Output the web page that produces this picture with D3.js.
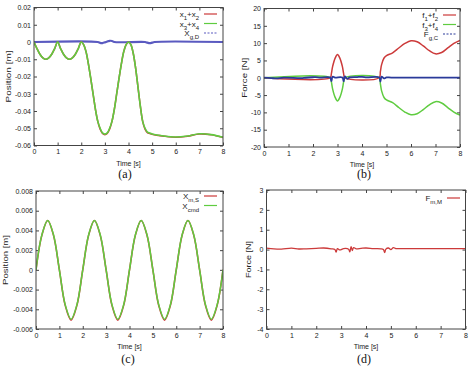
<!DOCTYPE html>
<html>
<head>
<meta charset="utf-8">
<script src="https://cdn.jsdelivr.net/npm/d3@7"></script>
<style>
  body { margin: 0; background: #fff; }
  svg { display: block; font-family: "Liberation Sans", Arial, sans-serif; }
  .tick text { fill: #222; font-size: 7px; }
  .tick line { stroke: #444; }
</style>
</head>
<body>
<script>
// ---- data ----
var xTicks = [0, 1, 2, 3, 4, 5, 6, 7, 8];

// (a) position
var aTime = [0,0.125,0.25,0.375,0.5,0.625,0.75,0.875,1,1.125,1.25,1.375,1.5,1.625,1.75,1.875,2,2.1,2.2,2.3,2.4,2.5,2.6,2.7,2.8,2.9,3,3.1,3.2,3.3,3.4,3.5,3.6,3.7,3.8,3.9,4,4.1,4.2,4.3,4.4,4.5,4.6,4.7,4.8,4.9,5,5.5,6,6.5,7,7.5,8];
var x12 = [0,-0.0038,-0.0071,-0.0092,-0.0100,-0.0092,-0.0071,-0.0038,0,-0.0038,-0.0071,-0.0092,-0.0100,-0.0092,-0.0071,-0.0038,0,-0.0015,-0.0055,-0.0125,-0.021,-0.030,-0.039,-0.046,-0.0505,-0.053,-0.0537,-0.053,-0.0505,-0.046,-0.039,-0.030,-0.021,-0.0125,-0.0055,-0.0015,0,-0.0015,-0.0065,-0.015,-0.026,-0.037,-0.046,-0.0505,-0.0525,-0.053,-0.0535,-0.0546,-0.0552,-0.0546,-0.0533,-0.0538,-0.0553];
var x34 = [0,-0.0038,-0.0071,-0.0092,-0.0100,-0.0092,-0.0071,-0.0038,0,-0.0038,-0.0071,-0.0092,-0.0100,-0.0092,-0.0071,-0.0038,0,-0.0015,-0.0055,-0.0125,-0.021,-0.030,-0.039,-0.046,-0.0500,-0.0527,-0.0534,-0.0527,-0.0500,-0.046,-0.039,-0.030,-0.021,-0.0125,-0.0055,-0.0015,0,-0.0015,-0.0065,-0.015,-0.026,-0.037,-0.046,-0.0500,-0.0522,-0.0528,-0.0533,-0.0545,-0.0551,-0.0545,-0.0532,-0.0537,-0.0552];
var gTime = [0,2.7,2.8,2.9,3.0,3.1,3.2,3.3,3.4,4.7,4.8,4.9,5.0,5.1,8];
var xgD = [0,0,-0.0005,-0.0006,-0.0002,0.0003,0.0007,0.0006,0,0,-0.0004,-0.0007,-0.0004,0,0];
var aYTicks = [0.02, 0.01, 0, -0.01, -0.02, -0.03, -0.04, -0.05, -0.06];

// (b) force
var bTime = [0,2.7,2.75,2.8,2.9,3.0,3.1,3.2,3.25,3.3,4.7,4.75,4.8,4.9,5.0,5.25,5.5,5.75,6.0,6.25,6.5,6.75,7.0,7.25,7.5,7.75,8.0];
var f12 = [0,0,1.2,3.2,5.6,6.7,5.6,3.2,1.2,0,0,1.8,3.8,5.7,6.4,7.2,8.6,9.9,10.7,10.4,9.2,7.8,6.9,7.3,8.6,9.9,10.8];
var f34 = [0,0,-1.2,-3.2,-5.6,-6.7,-5.6,-3.2,-1.2,0,0,-1.8,-3.8,-5.7,-6.4,-7.2,-8.6,-9.9,-10.7,-10.4,-9.2,-7.8,-6.9,-7.3,-8.6,-9.9,-10.8];
var cTime = [0,0.3,0.5,0.8,1.5,1.7,2.0,2.1,2.3,2.7,2.75,2.8,2.9,3.2,3.25,3.3,3.4,3.5,3.8,4.0,4.2,4.7,4.75,4.8,4.9,5.0,5.2,8];
var fgC = [0.05,-0.1,-0.2,0.05,-0.1,0.0,0.15,0.2,0.05,0.05,-1.0,0.3,0.05,0.05,-1.0,0.4,-0.3,0.1,0.2,0.25,0.1,0.1,-1.1,0.3,-0.2,0.1,0.05,0.05];
var bYTicks = [20, 15, 10, 5, 0, -5, -10, -15, -20];

// (c) position tracking
var sTime = [0,0.25,0.5,0.75,1,1.25,1.5,1.75,2,2.25,2.5,2.75,3,3.25,3.5,3.75,4,4.25,4.5,4.75,5,5.25,5.5,5.75,6,6.25,6.5,6.75,7,7.25,7.5,7.75,8];
var xmS = [0,0.0035,0.0050,0.0035,0,-0.0036,-0.0051,-0.0036,0,0.0035,0.0050,0.0035,0,-0.0036,-0.0051,-0.0036,0,0.0035,0.0050,0.0035,0,-0.0036,-0.0051,-0.0036,0,0.0035,0.0050,0.0035,0,-0.0036,-0.0051,-0.0036,0];
var xcmd = [0,0.00354,0.0050,0.00354,0,-0.00354,-0.0050,-0.00354,0,0.00354,0.0050,0.00354,0,-0.00354,-0.0050,-0.00354,0,0.00354,0.0050,0.00354,0,-0.00354,-0.0050,-0.00354,0,0.00354,0.0050,0.00354,0,-0.00354,-0.0050,-0.00354,0];
var cYTicks = [0.008, 0.006, 0.004, 0.002, 0, -0.002, -0.004, -0.006];

// (d) master force
var dTime = [0,0.3,0.6,1.0,1.3,1.6,2.0,2.3,2.6,2.75,2.8,2.85,2.95,3.1,3.3,3.35,3.4,3.45,3.5,3.6,3.8,4.0,4.3,4.6,4.7,4.75,4.8,4.9,5.0,5.1,5.2,5.5,8.0];
var fmM = [0.07,0.03,0.02,0.07,0.03,0.04,0.06,0.08,0.04,0.0,-0.13,0.05,-0.02,0.05,0.02,-0.12,0.15,-0.05,0.1,0.04,0.06,0.08,0.05,0.04,0.0,-0.15,0.02,0.08,0.0,0.1,0.05,0.05,0.05];
var dYTicks = [3, 2, 1, 0, -1, -2, -3, -4];

var RED = "#cc3a3a", GREEN = "#5fcc40", BLUE = "#5a5ac0", NAVY = "#2a3a9a";

var svg = d3.select("body").append("svg").attr("width", 474).attr("height", 370);
svg.append("rect").attr("width", 474).attr("height", 370).attr("fill", "#fff");

function zip(ts, vs) { return ts.map(function(t, i) { return [t, vs[i]]; }); }

function drawPanel(p) {
  var x = d3.scaleLinear().domain([0, 8]).range([p.x0, p.x1]);
  var y = d3.scaleLinear().domain(p.yDomain).range([p.yBot, p.yTop]);
  var g = svg.append("g");

  g.append("g").attr("transform", "translate(0," + p.yBot + ")")
    .call(d3.axisBottom(x).tickValues(xTicks).tickSize(-3).tickSizeOuter(0).tickPadding(4));
  g.append("g").attr("transform", "translate(0," + p.yTop + ")")
    .call(d3.axisTop(x).tickValues(xTicks).tickSize(-3).tickSizeOuter(0).tickFormat(""));
  g.append("g").attr("transform", "translate(" + p.x0 + ",0)")
    .call(d3.axisLeft(y).tickValues(p.yTicks).tickSize(-3).tickSizeOuter(0).tickPadding(3).tickFormat(function(d) { return String(d); }));
  g.append("g").attr("transform", "translate(" + p.x1 + ",0)")
    .call(d3.axisRight(y).tickValues(p.yTicks).tickSize(-3).tickSizeOuter(0).tickFormat(""));
  g.selectAll(".domain").remove();

  var clipId = "clip" + p.name;
  svg.append("clipPath").attr("id", clipId).append("rect")
    .attr("x", p.x0).attr("y", p.yTop).attr("width", p.x1 - p.x0).attr("height", p.yBot - p.yTop);

  var line = d3.line().x(function(d) { return x(d[0]); }).y(function(d) { return y(d[1]); })
    .curve(d3.curveCatmullRom.alpha(0.5));

  p.series.forEach(function(s) {
    g.append("path").datum(zip(s.t, s.v))
      .attr("clip-path", "url(#" + clipId + ")")
      .attr("fill", "none").attr("stroke", s.color).attr("stroke-width", s.width)
      .attr("d", line);
  });

  g.append("rect").attr("x", p.x0).attr("y", p.yTop)
    .attr("width", p.x1 - p.x0).attr("height", p.yBot - p.yTop)
    .attr("fill", "none").attr("stroke", "#444").attr("stroke-width", 1);

  // legend
  p.legend.forEach(function(L, i) {
    var ly = p.legY + i * p.legStep;
    var t = g.append("text").attr("x", p.legX).attr("y", ly + 3)
      .attr("text-anchor", "end").attr("font-size", 8).attr("fill", "#222");
    L.parts.forEach(function(part) {
      var sp = t.append("tspan").text(part[0]);
      if (part[1]) sp.attr("font-size", 6).attr("baseline-shift", "sub");
    });
    g.append("line").attr("x1", p.legX + 5).attr("x2", p.legX + 18)
      .attr("y1", ly).attr("y2", ly)
      .attr("stroke", L.color).attr("stroke-width", 1.2)
      .attr("stroke-dasharray", L.dash || null);
  });

  g.append("text").attr("x", (p.x0 + p.x1) / 2).attr("y", p.yBot + 20)
    .attr("text-anchor", "middle").attr("font-size", 7).attr("fill", "#222").text("Time [s]");
  g.append("text").attr("transform", "translate(" + p.yLabX + "," + (p.yTop + p.yBot) / 2 + ") rotate(-90)")
    .attr("text-anchor", "middle").attr("font-size", 7.5).attr("fill", "#222")
    .attr("textLength", p.yLabLen).attr("lengthAdjust", "spacingAndGlyphs").text(p.yLabel);
  g.append("text").attr("x", p.capX).attr("y", p.capY)
    .attr("text-anchor", "middle").attr("font-size", 12)
    .attr("font-family", "Liberation Serif, Times New Roman, serif").attr("fill", "#111").text(p.caption);
}

drawPanel({
  name: "a", x0: 34, x1: 223, yTop: 7.5, yBot: 145.5, yDomain: [-0.06, 0.02], yTicks: aYTicks,
  yLabel: "Position [m]", yLabX: 11, yLabLen: 52, capX: 125, capY: 178, caption: "(a)",
  series: [
    { t: gTime, v: xgD, color: BLUE, width: 2.2 },
    { t: aTime, v: x12, color: RED, width: 1.6 },
    { t: aTime, v: x34, color: GREEN, width: 1.6 }
  ],
  legX: 199, legY: 14, legStep: 9.5,
  legend: [
    { parts: [["x", 0], ["1", 1], ["+x", 0], ["2", 1]], color: RED },
    { parts: [["x", 0], ["3", 1], ["+x", 0], ["4", 1]], color: GREEN },
    { parts: [["X", 0], ["g,D", 1]], color: BLUE, dash: "2,1.5" }
  ]
});

drawPanel({
  name: "b", x0: 264, x1: 460, yTop: 8.5, yBot: 147, yDomain: [-20, 20], yTicks: bYTicks,
  yLabel: "Force [N]", yLabX: 247, yLabLen: 40, capX: 364, capY: 178, caption: "(b)",
  series: [
    { t: bTime, v: f12, color: RED, width: 1.5 },
    { t: bTime, v: f34, color: GREEN, width: 1.5 },
    { t: cTime, v: fgC, color: NAVY, width: 1.8 }
  ],
  legX: 438, legY: 15, legStep: 9.5,
  legend: [
    { parts: [["f", 0], ["1", 1], ["+f", 0], ["2", 1]], color: RED },
    { parts: [["f", 0], ["3", 1], ["+f", 0], ["4", 1]], color: GREEN },
    { parts: [["F", 0], ["g,C", 1]], color: NAVY, dash: "2,1.5" }
  ]
});

drawPanel({
  name: "c", x0: 36, x1: 223, yTop: 191, yBot: 329, yDomain: [-0.006, 0.008], yTicks: cYTicks,
  yLabel: "Position [m]", yLabX: 8, yLabLen: 50, capX: 128, capY: 363, caption: "(c)",
  series: [
    { t: sTime, v: xmS, color: RED, width: 1.6 },
    { t: sTime, v: xcmd, color: GREEN, width: 1.5 }
  ],
  legX: 199, legY: 196, legStep: 9.5,
  legend: [
    { parts: [["X", 0], ["m,S", 1]], color: RED },
    { parts: [["X", 0], ["cmd", 1]], color: GREEN }
  ]
});

drawPanel({
  name: "d", x0: 266.5, x1: 465.5, yTop: 190, yBot: 329, yDomain: [-4, 3], yTicks: dYTicks,
  yLabel: "Force [N]", yLabX: 251, yLabLen: 37, capX: 364, capY: 363, caption: "(d)",
  series: [
    { t: dTime, v: fmM, color: RED, width: 1.3 }
  ],
  legX: 442, legY: 198, legStep: 9.5,
  legend: [
    { parts: [["F", 0], ["m,M", 1]], color: RED }
  ]
});
</script>
</body>
</html>
